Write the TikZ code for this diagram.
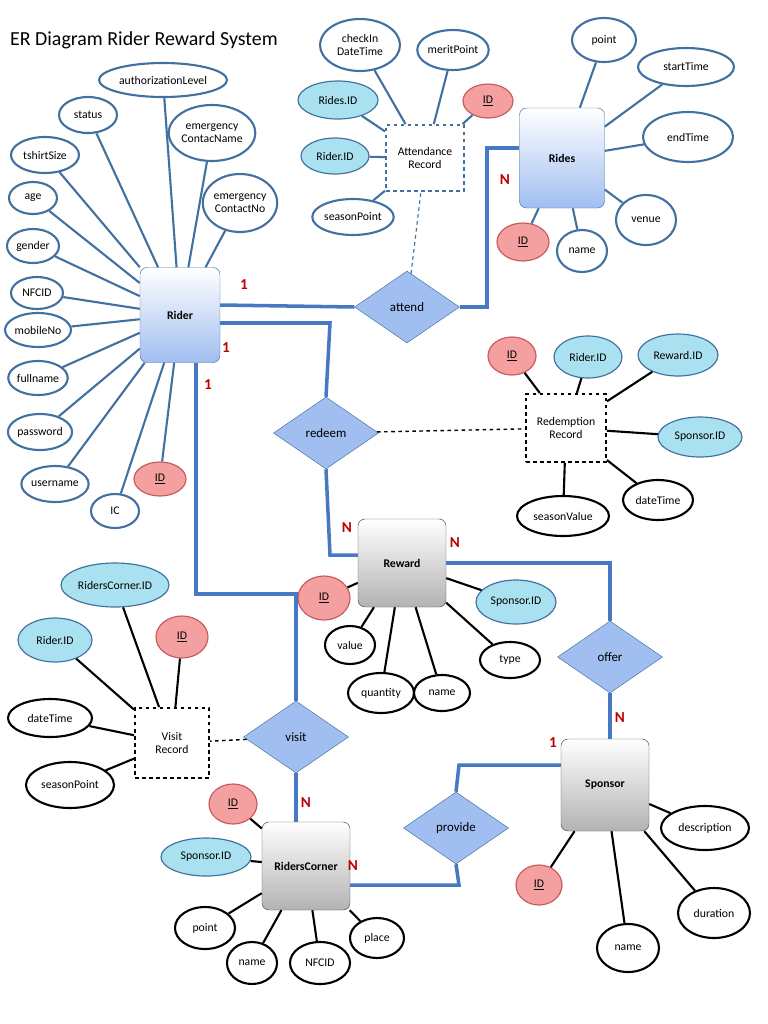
\documentclass[tikz,border=0pt]{standalone}
\usepackage{fontspec}
\setmainfont{Carlito}
\usetikzlibrary{shapes.geometric}
\definecolor{bb}{RGB}{65,113,160}
\definecolor{ln}{RGB}{70,120,195}
\definecolor{cy}{RGB}{170,225,240}
\definecolor{rd}{RGB}{245,160,160}
\definecolor{rdb}{RGB}{200,90,90}
\definecolor{ent}{RGB}{160,190,240}
\begin{document}
\begin{tikzpicture}[x=0.03cm,y=-0.03cm,font=\fontsize{10}{11}\selectfont,
 sz/.style 2 args={minimum width={#1*0.03cm},minimum height={#2*0.03cm}},
 a/.style={ellipse,draw=bb,line width=1.8pt,fill=white,inner sep=0pt,align=center},
 ab/.style={a,draw=black},
 ca/.style={a,fill=cy,draw=bb,line width=1pt},
 ra/.style={a,fill=rd,draw=rdb,line width=1pt,execute at begin node=\underline{ID}},
 be/.style={draw=bb,rounded corners=6pt,top color=white,bottom color=ent,font=\fontsize{10}{11}\selectfont\bfseries},
 ge/.style={draw=black!70,rounded corners=6pt,top color=white,bottom color=black!30,font=\fontsize{10}{11}\selectfont\bfseries},
 rel/.style={diamond,aspect=1.5,draw=bb,fill=ent,sz={105}{72},inner sep=0pt,font=\fontsize{11}{12}\selectfont},
 wr/.style={dashed,line width=1.6pt,sz={78}{66},align=center,fill=white},
 al/.style={line width=1.8pt,draw=bb},
 bl/.style={line width=1.8pt,draw=black},
 rl/.style={line width=3pt,draw=ln},
 card/.style={text=red!75!black,font=\fontsize{13}{14}\selectfont\bfseries}]
\useasboundingbox (0,0) rectangle (768,1024);
\node[anchor=west,font=\fontsize{17}{18}\selectfont] (title) at (6,40) {ER Diagram Rider Reward System};
% Rider
\node[be,sz={80}{95}] (rider) at (180,315) {Rider};
\foreach \n/\x/\y/\t/\w/\h in {al/163/80/authorizationLevel/128/34, st/88/115/status/58/36, ecn/212/133/emergency\\ContacName/80/56, ts/45/155/tshirtSize/68/36, ecno/240/203/emergency\\ContactNo/74/58, ag/33/198/age/48/32, ge/33/246/gender/52/34, nf/37/293/NFCID/52/32, mo/38/330/mobileNo/62/34, fn/38/378/fullname/58/34, pw/40/432/password/62/36, un/55/484/username/66/36, ic/115/511/IC/48/34}
 {\node[a,sz={\w}{\h}] (r\n) at (\x,\y) {\t}; \draw[al] (r\n) -- (rider);}
\node[ra,sz={52}{34}] (rid) at (160,479) {}; \draw[al] (rid) -- (rider);
% Attendance
\node[wr,draw=bb] (att) at (425,158) {Attendance\\Record};
\foreach \n/\x/\y/\t/\w/\h in {ck/360/45/checkIn\\DateTime/80/52, mp/453/50/meritPoint/70/40, sp/353/217/seasonPoint/74/36}
 {\node[a,sz={\w}{\h}] (t\n) at (\x,\y) {\t}; \draw[al] (t\n) -- (att);}
\node[ca,sz={80}{38}] (trid) at (338,100) {Rides.ID}; \draw[al] (trid) -- (att);
\node[ca,sz={68}{36}] (tri) at (335,156) {Rider.ID}; \draw[al] (tri) -- (att);
\node[ra,sz={50}{34}] (tid) at (488,101) {}; \draw[al] (tid) -- (att);
\node[rel] (attend) at (407,307) {attend};
\draw[dashed,bb,line width=1pt] (attend) -- (att);
% Rides
\node[be,sz={85}{100}] (rides) at (562,158) {Rides};
\foreach \n/\x/\y/\t/\w/\h in {po/604/40/point/64/44, stt/686/67/startTime/96/38, et/688/137/endTime/90/50, ve/646/220/venue/60/50, na/582/251/name/50/42}
 {\node[a,sz={\w}{\h}] (s\n) at (\x,\y) {\t}; \draw[al] (s\n) -- (rides);}
\node[ra,sz={52}{38}] (sid) at (523,242) {}; \draw[al] (sid) -- (rides);
\draw[rl] (rider.east|-0,305) -- (attend.west);
\draw[rl] (attend.east) -- (487,307) -- (487,148) -- (rides.west|-0,148);
\node[card] at (244,285) {1}; \node[card] at (505,180) {N};
% Redeem
\node[rel] (redeem) at (326,433) {redeem};
\node[wr,draw=black,sz={80}{68}] (red) at (566,428) {Redemption\\Record};
\draw[dashed,black,line width=1.2pt] (redeem) -- (red);
\foreach \n/\x/\y/\t/\w/\h in {dt/658/500/dateTime/70/40, sv/563/516/seasonValue/92/40}
 {\node[ab,sz={\w}{\h}] (e\n) at (\x,\y) {\t}; \draw[bl] (e\n) -- (red);}
\node[ra,sz={48}{38}] (eid) at (512,356) {}; \draw[bl] (eid) -- (red);
\node[ca,sz={68}{42}] (eri) at (588,357) {Rider.ID}; \draw[bl] (eri) -- (red);
\node[ca,sz={80}{42}] (erw) at (678,355) {Reward.ID}; \draw[bl] (erw) -- (red);
\node[ca,sz={84}{40}] (esp) at (700,437) {Sponsor.ID}; \draw[bl] (esp) -- (red);
% Reward
\node[ge,sz={88}{88}] (reward) at (402,563) {Reward};
\foreach \n/\x/\y/\t/\w/\h in {va/350/645/value/50/38, qu/381/693/quantity/66/40, na/442/693/name/56/36, ty/510/660/type/60/36}
 {\node[ab,sz={\w}{\h}] (w\n) at (\x,\y) {\t}; \draw[bl] (w\n) -- (reward);}
\node[ra,sz={52}{44}] (wid) at (324,598) {}; \draw[bl] (wid) -- (reward);
\node[ca,sz={80}{44}] (wsp) at (516,602) {Sponsor.ID}; \draw[bl] (wsp) -- (reward);
\draw[rl] (rider.east|-0,323) -- (330,323) -- (redeem.north);
\draw[rl] (redeem.south) -- (330,555) -- (reward.west|-0,555);
\node[card] at (226,348) {1}; \node[card] at (347,528) {N};
% Offer / Sponsor
\node[rel] (offer) at (610,657) {offer};
\node[ge,sz={88}{92}] (sponsor) at (605,785) {Sponsor};
\foreach \n/\x/\y/\t/\w/\h in {de/705/828/description/88/44, du/714/913/duration/72/50, na/628/948/name/62/48}
 {\node[ab,sz={\w}{\h}] (p\n) at (\x,\y) {\t}; \draw[bl] (p\n) -- (sponsor);}
\node[ra,sz={46}{40}] (pid) at (539,885) {}; \draw[bl] (pid) -- (sponsor);
\draw[rl] (reward.east|-0,563) -- (610,563) -- (offer.north);
\draw[rl] (offer.south) -- (sponsor.north-|610,0);
\node[card] at (455,543) {N}; \node[card] at (620,718) {N}; \node[card] at (553,743) {1};
% Provide / RidersCorner
\node[rel] (provide) at (456,828) {provide};
\node[ge,sz={88}{88}] (rc) at (306,866) {RidersCorner};
\foreach \n/\x/\y/\t/\w/\h in {po/205/928/point/60/42, na/252/963/name/50/42, nf/320/963/NFCID/60/42, pl/377/938/place/54/40}
 {\node[ab,sz={\w}{\h}] (c\n) at (\x,\y) {\t}; \draw[bl] (c\n) -- (rc);}
\node[ra,sz={48}{40}] (cid) at (233,804) {}; \draw[bl] (cid) -- (rc);
\node[ca,sz={90}{38}] (csp) at (206,857) {Sponsor.ID}; \draw[bl] (csp) -- (rc);
\draw[rl] (sponsor.west|-0,765) -- (459,765) -- (provide.north);
\draw[rl] (provide.south) -- (459,885) -- (rc.east|-0,885);
\node[card] at (353,866) {N};
% Visit
\node[rel] (visit) at (296,737) {visit};
\node[wr,draw=black,sz={74}{70}] (vr) at (172,743) {Visit\\Record};
\draw[dashed,black,line width=1.2pt] (visit) -- (vr);
\foreach \n/\x/\y/\t/\w/\h in {dt/50/718/dateTime/84/38, sp/70/785/seasonPoint/88/46}
 {\node[ab,sz={\w}{\h}] (v\n) at (\x,\y) {\t}; \draw[bl] (v\n) -- (vr);}
\node[ca,sz={108}{44}] (vrc) at (115,585) {RidersCorner.ID}; \draw[bl] (vrc) -- (vr);
\node[ca,sz={74}{44}] (vri) at (55,640) {Rider.ID}; \draw[bl] (vri) -- (vr);
\node[ra,sz={52}{42}] (vid) at (182,637) {}; \draw[bl] (vid) -- (vr);
\draw[rl] (rider.south-|196,0) -- (196,594) -- (296,594) -- (visit.north);
\draw[rl] (visit.south) -- (rc.north-|296,0);
\node[card] at (208,385) {1}; \node[card] at (306,803) {N};
\end{tikzpicture}
\end{document}
